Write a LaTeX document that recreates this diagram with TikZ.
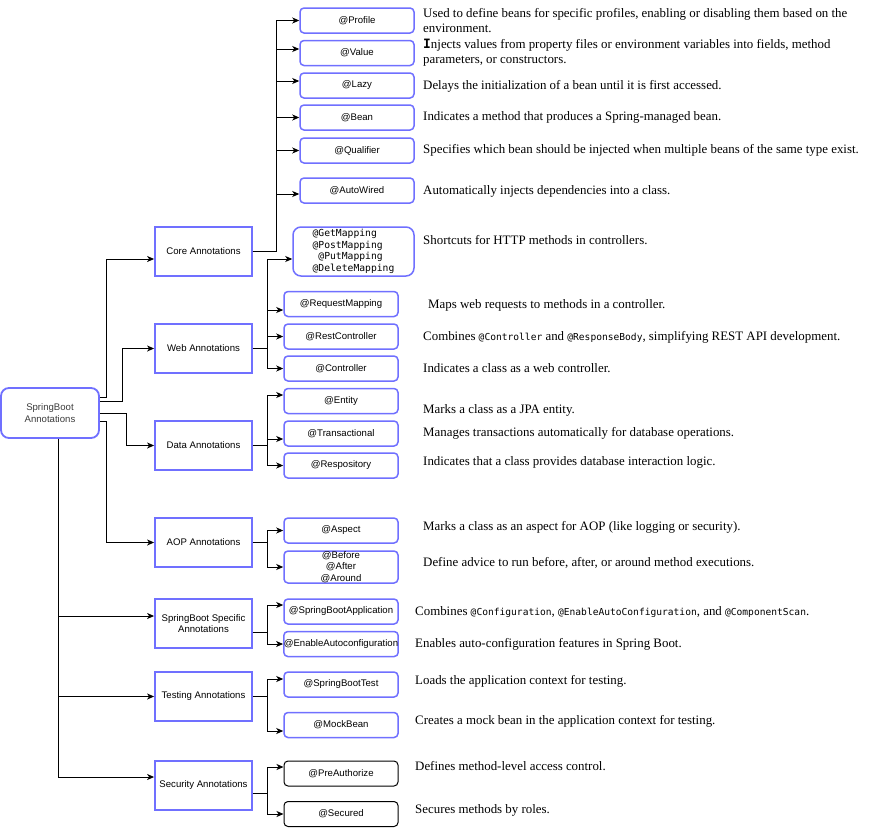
\documentclass[tikz,border=0pt]{standalone}
\usepackage{fontspec}
\setmainfont{Liberation Serif}
\newfontfamily\boxfont{Liberation Sans}
\newfontfamily\codefont{DejaVu Sans Mono}
\usetikzlibrary{arrows.meta}
\definecolor{boxblue}{RGB}{112,112,255}
\definecolor{rootgray}{RGB}{60,60,60}
\newcommand\inlinecode[1]{{\codefont\fontsize{9.6}{10}\selectfont #1}}
\begin{document}
\begin{tikzpicture}[x=1pt,y=-1pt,
 catbox/.style={draw=boxblue,line width=1.8pt,minimum width=97pt,minimum height=49pt,inner sep=0pt,font=\boxfont\fontsize{9.6}{11.5}\selectfont,align=center},
 leaf/.style={draw=boxblue,line width=1.5pt,rounded corners=4pt,minimum width=114pt,minimum height=25pt,inner sep=0pt,font=\boxfont\fontsize{9.6}{11.7}\selectfont,align=center},
 blackleaf/.style={leaf,draw=black,line width=1pt},
 desc/.style={anchor=west,inner sep=0pt,font=\fontsize{12.9}{15}\selectfont,align=left},
 conn/.style={draw=black,line width=1pt,-{Stealth[length=7pt,width=6pt,inset=2pt]}},
 ]
\fill[white] (0,0) rectangle (875,830);
\useasboundingbox (0,0) rectangle (875,830);

% root
\node[draw=boxblue,line width=1.8pt,rounded corners=8pt,minimum width=98pt,minimum height=50pt,inner sep=0pt,align=center,text=rootgray,font=\boxfont\fontsize{9.6}{12}\selectfont] (root) at (50,413) {SpringBoot\\Annotations};

% categories
\node[catbox] (core) at (203.5,251.5) {Core Annotations};
\node[catbox] (web)  at (203.5,348.5) {Web Annotations};
\node[catbox] (data) at (203.5,445.5) {Data Annotations};
\node[catbox] (aop)  at (203.5,542.5) {AOP Annotations};
\node[catbox] (sbs)  at (203.5,623.5) {SpringBoot Specific\\Annotations};
\node[catbox] (test) at (203.5,696.5) {Testing Annotations};
\node[catbox] (sec)  at (203.5,785.5) {Security Annotations};

% core children
\node[leaf] (profile) at (357,20.5) {@Profile};
\node[leaf] (value) at (357,53) {@Value};
\node[leaf] (lazy) at (357,85.5) {@Lazy};
\node[leaf] (bean) at (357,117.5) {@Bean};
\node[leaf] (qual) at (357,150.5) {@Qualifier};
\node[leaf] (auto) at (357,190.5) {@AutoWired};

% web children
\node[draw=boxblue,line width=1.5pt,rounded corners=8pt,minimum width=121pt,minimum height=49pt,inner sep=0pt,align=left,font=\codefont\fontsize{9.7}{11.6}\selectfont] (mapping) at (353.5,251.5) {@GetMapping\\@PostMapping\\\ @PutMapping\\@DeleteMapping};
\node[leaf] (reqmap) at (341,304) {@RequestMapping};
\node[leaf] (restc) at (341,336.5) {@RestController};
\node[leaf] (ctrl) at (341,368.5) {@Controller};

% data children
\node[leaf] (entity) at (341,401) {@Entity};
\node[leaf] (trans) at (341,433.5) {@Transactional};
\node[leaf] (repo) at (341,465.5) {@Respository};

% aop children
\node[leaf] (aspect) at (341,530.5) {@Aspect};
\node[leaf,minimum height=32pt] (baa) at (341,567) {@Before\\@After\\@Around};

% springboot specific children
\node[leaf] (sbapp) at (341,611.5) {@SpringBootApplication};
\node[leaf] (enable) at (341,644) {@EnableAutoconfiguration};

% testing children
\node[leaf] (sbtest) at (341,684.5) {@SpringBootTest};
\node[leaf] (mock) at (341,725) {@MockBean};

% security children
\node[blackleaf] (preauth) at (341,773.5) {@PreAuthorize};
\node[blackleaf] (secured) at (341,814) {@Secured};

% root connectors
\draw[conn] ([yshift=16pt]root.east) -- ++(7,0) |- ([yshift=-7.5pt]core.west);
\draw[conn] ([yshift=12pt]root.east) -- ++(23,0) |- (web.west);
\draw[conn] (root.east) -- ++(27,0) |- (data.west);
\draw[conn] ([yshift=-8pt]root.east) -- ++(7,0) |- (aop.west);
\draw[conn] ([xshift=8pt]root.south) |- ([yshift=7.5pt]sbs.west);
\draw[conn] ([xshift=8pt]root.south) |- (test.west);
\draw[conn] ([xshift=8pt]root.south) |- ([yshift=8.5pt]sec.west);

% core connectors
\draw[conn] (core.east) -- ++(24,0) |- (profile.west);
\draw[conn] (core.east) -- ++(24,0) |- ([yshift=4pt]value.west);
\draw[conn] (core.east) -- ++(24,0) |- ([yshift=4.5pt]lazy.west);
\draw[conn] (core.east) -- ++(24,0) |- (bean.west);
\draw[conn] (core.east) -- ++(24,0) |- (qual.west);
\draw[conn] (core.east) -- ++(24,0) |- ([yshift=-3.5pt]auto.west);

% web connectors
\draw[conn] (web.east) -- ++(15,0) |- ([yshift=-7.5pt]mapping.west);
\draw[conn] (web.east) -- ++(15,0) |- ([yshift=-6pt]reqmap.west);
\draw[conn] (web.east) -- ++(15,0) |- (restc.west);
\draw[conn] (web.east) -- ++(15,0) |- (ctrl.west);

% data connectors
\draw[conn] (data.east) -- ++(15,0) |- ([yshift=6pt]entity.west);
\draw[conn] (data.east) -- ++(15,0) |- ([yshift=-5.5pt]trans.west);
\draw[conn] (data.east) -- ++(15,0) |- (repo.west);

% aop connectors
\draw[conn] (aop.east) -- ++(15,0) |- (aspect.west);
\draw[conn] (aop.east) -- ++(15,0) |- (baa.west);

% sbs connectors
\draw[conn] ([yshift=-8.5pt]sbs.east) -- ++(15,0) |- ([yshift=6.5pt]sbapp.west);
\draw[conn] ([yshift=-8.5pt]sbs.east) -- ++(15,0) |- (enable.west);

% testing connectors
\draw[conn] (test.east) -- ++(15,0) |- ([yshift=5.5pt]sbtest.west);
\draw[conn] (test.east) -- ++(15,0) |- ([yshift=-6pt]mock.west);

% security connectors
\draw[conn] ([yshift=-7.5pt]sec.east) -- ++(15,0) |- ([yshift=6.5pt]preauth.west);
\draw[conn] ([yshift=-7.5pt]sec.east) -- ++(15,0) |- (secured.west);

% descriptions
\node[desc] (dprofile) at (423,20.5) {Used to define beans for specific profiles, enabling or disabling them based on the\\environment.};
\node[desc] (dvalue) at (423,52.5) {{\codefont\bfseries I}njects values from property files or environment variables into fields, method\\parameters, or constructors.};
\node[desc] (dlazy) at (423,86) {Delays the initialization of a bean until it is first accessed.};
\node[desc] (dbean) at (423,117) {Indicates a method that produces a Spring-managed bean.};
\node[desc] (dqual) at (423,150) {Specifies which bean should be injected when multiple beans of the same type exist.};
\node[desc] (dauto) at (423,191) {Automatically injects dependencies into a class.};
\node[desc] (dmap) at (423,240) {Shortcuts for HTTP methods in controllers.};
\node[desc] (dreq) at (428,305) {Maps web requests to methods in a controller.};
\node[desc] (drest) at (423,337) {Combines \inlinecode{@Controller} and \inlinecode{@ResponseBody}, simplifying REST API development.};
\node[desc] (dctrl) at (423,368) {Indicates a class as a web controller.};
\node[desc] (dentity) at (423,410) {Marks a class as a JPA entity.};
\node[desc] (dtrans) at (423,433) {Manages transactions automatically for database operations.};
\node[desc] (drepo) at (423,462) {Indicates that a class provides database interaction logic.};
\node[desc] (daspect) at (423,527) {Marks a class as an aspect for AOP (like logging or security).};
\node[desc] (dbaa) at (423,563) {Define advice to run before, after, or around method executions.};
\node[desc] (dsbapp) at (415,612) {Combines \inlinecode{@Configuration}, \inlinecode{@EnableAutoConfiguration}, and \inlinecode{@ComponentScan}.};
\node[desc] (denable) at (415,644) {Enables auto-configuration features in Spring Boot.};
\node[desc] (dsbtest) at (415,681) {Loads the application context for testing.};
\node[desc] (dmock) at (415,721) {Creates a mock bean in the application context for testing.};
\node[desc] (dpre) at (415,766) {Defines method-level access control.};
\node[desc] (dsec) at (415,810) {Secures methods by roles.};
\end{tikzpicture}
\end{document}
